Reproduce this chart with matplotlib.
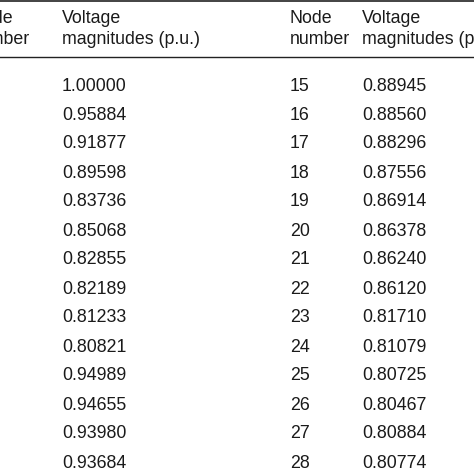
import matplotlib
matplotlib.use("Agg")
import matplotlib.pyplot as plt

nodes_left = list(range(1, 15))
volts_left = ["1.00000", "0.95884", "0.91877", "0.89598", "0.83736", "0.85068", "0.82855",
              "0.82189", "0.81233", "0.80821", "0.94989", "0.94655", "0.93980", "0.93684"]
nodes_right = list(range(15, 29))
volts_right = ["0.88945", "0.88560", "0.88296", "0.87556", "0.86914", "0.86378", "0.86240",
               "0.86120", "0.81710", "0.81079", "0.80725", "0.80467", "0.80884", "0.80774"]

W = H = 474
fig = plt.figure(figsize=(4.74, 4.74), dpi=100)
ax = fig.add_axes([0, 0, 1, 1])
ax.set_xlim(0, W)
ax.set_ylim(H, 0)
ax.axis("off")

fs = 12.8
font = dict(family="Liberation Sans", fontsize=fs, color="#1a1a1a", va="center", ha="left", clip_on=True)

# header (table is cropped at both sides, as in the original)
for x, t in [(-30, "Node\nnumber"), (62, "Voltage\nmagnitudes (p.u.)"),
             (290, "Node\nnumber"), (362, "Voltage\nmagnitudes (p.u.)")]:
    ax.text(x, 29, t, linespacing=1.35, **font)

ax.axhline(1, color="#222222", lw=1.2)
ax.axhline(57, color="#222222", lw=1.0)

y0, dy = 86, 29
for i in range(len(nodes_left)):
    y = y0 + i * dy
    ax.text(-30, y, str(nodes_left[i]), **font)
    ax.text(62, y, volts_left[i], **font)
    ax.text(290, y, str(nodes_right[i]), **font)
    ax.text(362, y, volts_right[i], **font)

fig.savefig("out.png", dpi=100)
